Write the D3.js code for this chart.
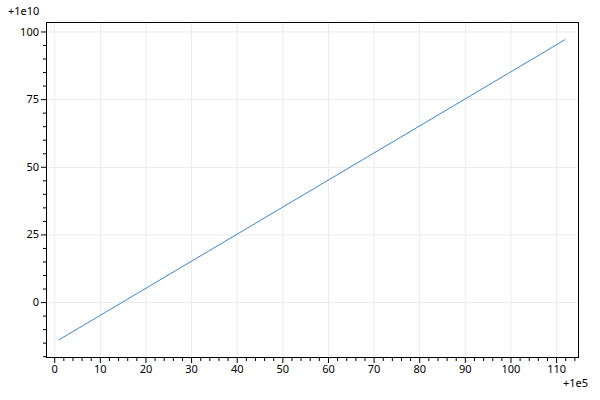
<!doctype html>
<html>
<head>
  <script src="https://d3js.org/d3.v7.min.js"></script>
  <style>
    body { margin: 0; background: #fff; }
    text { font-family: "Noto Sans", "Open Sans", sans-serif; font-size: 11px; fill: #000; }
  </style>
</head>
<body>
  <svg width="600" height="400"></svg>
  <script>
    // values shown relative to offsets (+1e5 on x, +1e10 on y)
    var xVals = [1, 112]
    var yVals = [-14, 97]
    var xTicks = [0, 10, 20, 30, 40, 50, 60, 70, 80, 90, 100, 110]
    var yTicks = [0, 25, 50, 75, 100]
    var xOffsetLabel = "+1e5"
    var yOffsetLabel = "+1e10"

    var plotLeft = 46, plotRight = 578, plotTop = 22, plotBottom = 357
    var svg = d3.select("svg")

    var x = d3.scaleLinear().domain([-1.8, 114.8]).range([plotLeft, plotRight])
    var y = d3.scaleLinear().domain([-20.3, 103.5]).range([plotBottom, plotTop])

    // grid
    svg.append("g").selectAll("line").data(xTicks).enter().append("line")
      .attr("x1", function(d) { return x(d) + 0.5 }).attr("x2", function(d) { return x(d) + 0.5 })
      .attr("y1", plotTop).attr("y2", plotBottom)
      .attr("stroke", "#ebebeb").attr("stroke-width", 1)
    svg.append("g").selectAll("line").data(yTicks).enter().append("line")
      .attr("y1", function(d) { return y(d) + 0.5 }).attr("y2", function(d) { return y(d) + 0.5 })
      .attr("x1", plotLeft).attr("x2", plotRight)
      .attr("stroke", "#ebebeb").attr("stroke-width", 1)

    // minor ticks
    var xMinor = d3.range(0, 115, 2).filter(function(v) { return v % 10 != 0 })
    var yMinor = d3.range(-20, 104, 5).filter(function(v) { return v % 25 != 0 })

    var xAxis = d3.axisBottom(x).tickValues(xTicks).tickSize(5).tickSizeOuter(0).tickPadding(2)
    var yAxis = d3.axisLeft(y).tickValues(yTicks).tickSize(5).tickSizeOuter(0).tickPadding(2)

    var gx = svg.append("g").attr("transform", "translate(0," + (plotBottom + 1) + ")").call(xAxis)
    gx.select(".domain").remove()
    gx.selectAll("text").style("font-family", "'Noto Sans', sans-serif").style("font-size", "11px")
    gx.append("g").selectAll("line").data(xMinor).enter().append("line")
      .attr("x1", function(d) { return x(d) + 0.5 }).attr("x2", function(d) { return x(d) + 0.5 })
      .attr("y1", 0).attr("y2", 3).attr("stroke", "#000")

    var gy = svg.append("g").attr("transform", "translate(" + plotLeft + ",0)").call(yAxis)
    gy.select(".domain").remove()
    gy.selectAll("text").style("font-family", "'Noto Sans', sans-serif").style("font-size", "11px")
    gy.append("g").selectAll("line").data(yMinor).enter().append("line")
      .attr("y1", function(d) { return y(d) + 0.5 }).attr("y2", function(d) { return y(d) + 0.5 })
      .attr("x1", 0).attr("x2", -3).attr("stroke", "#000")

    // frame
    svg.append("rect")
      .attr("x", plotLeft + 0.5).attr("y", plotTop + 0.5)
      .attr("width", plotRight - plotLeft).attr("height", plotBottom - plotTop)
      .attr("fill", "none").attr("stroke", "#000").attr("stroke-width", 1)

    // data line
    var pts = xVals.map(function(v, i) { return [v, yVals[i]] })
    svg.append("path")
      .datum(pts)
      .attr("d", d3.line().x(function(d) { return x(d[0]) }).y(function(d) { return y(d[1]) }))
      .attr("fill", "none").attr("stroke", "#3a87c8").attr("stroke-width", 1)

    // offset labels
    svg.append("text").attr("x", 8).attr("y", 15).text(yOffsetLabel)
    svg.append("text").attr("x", 588).attr("y", 387).attr("text-anchor", "end").text(xOffsetLabel)
  </script>
</body>
</html>
